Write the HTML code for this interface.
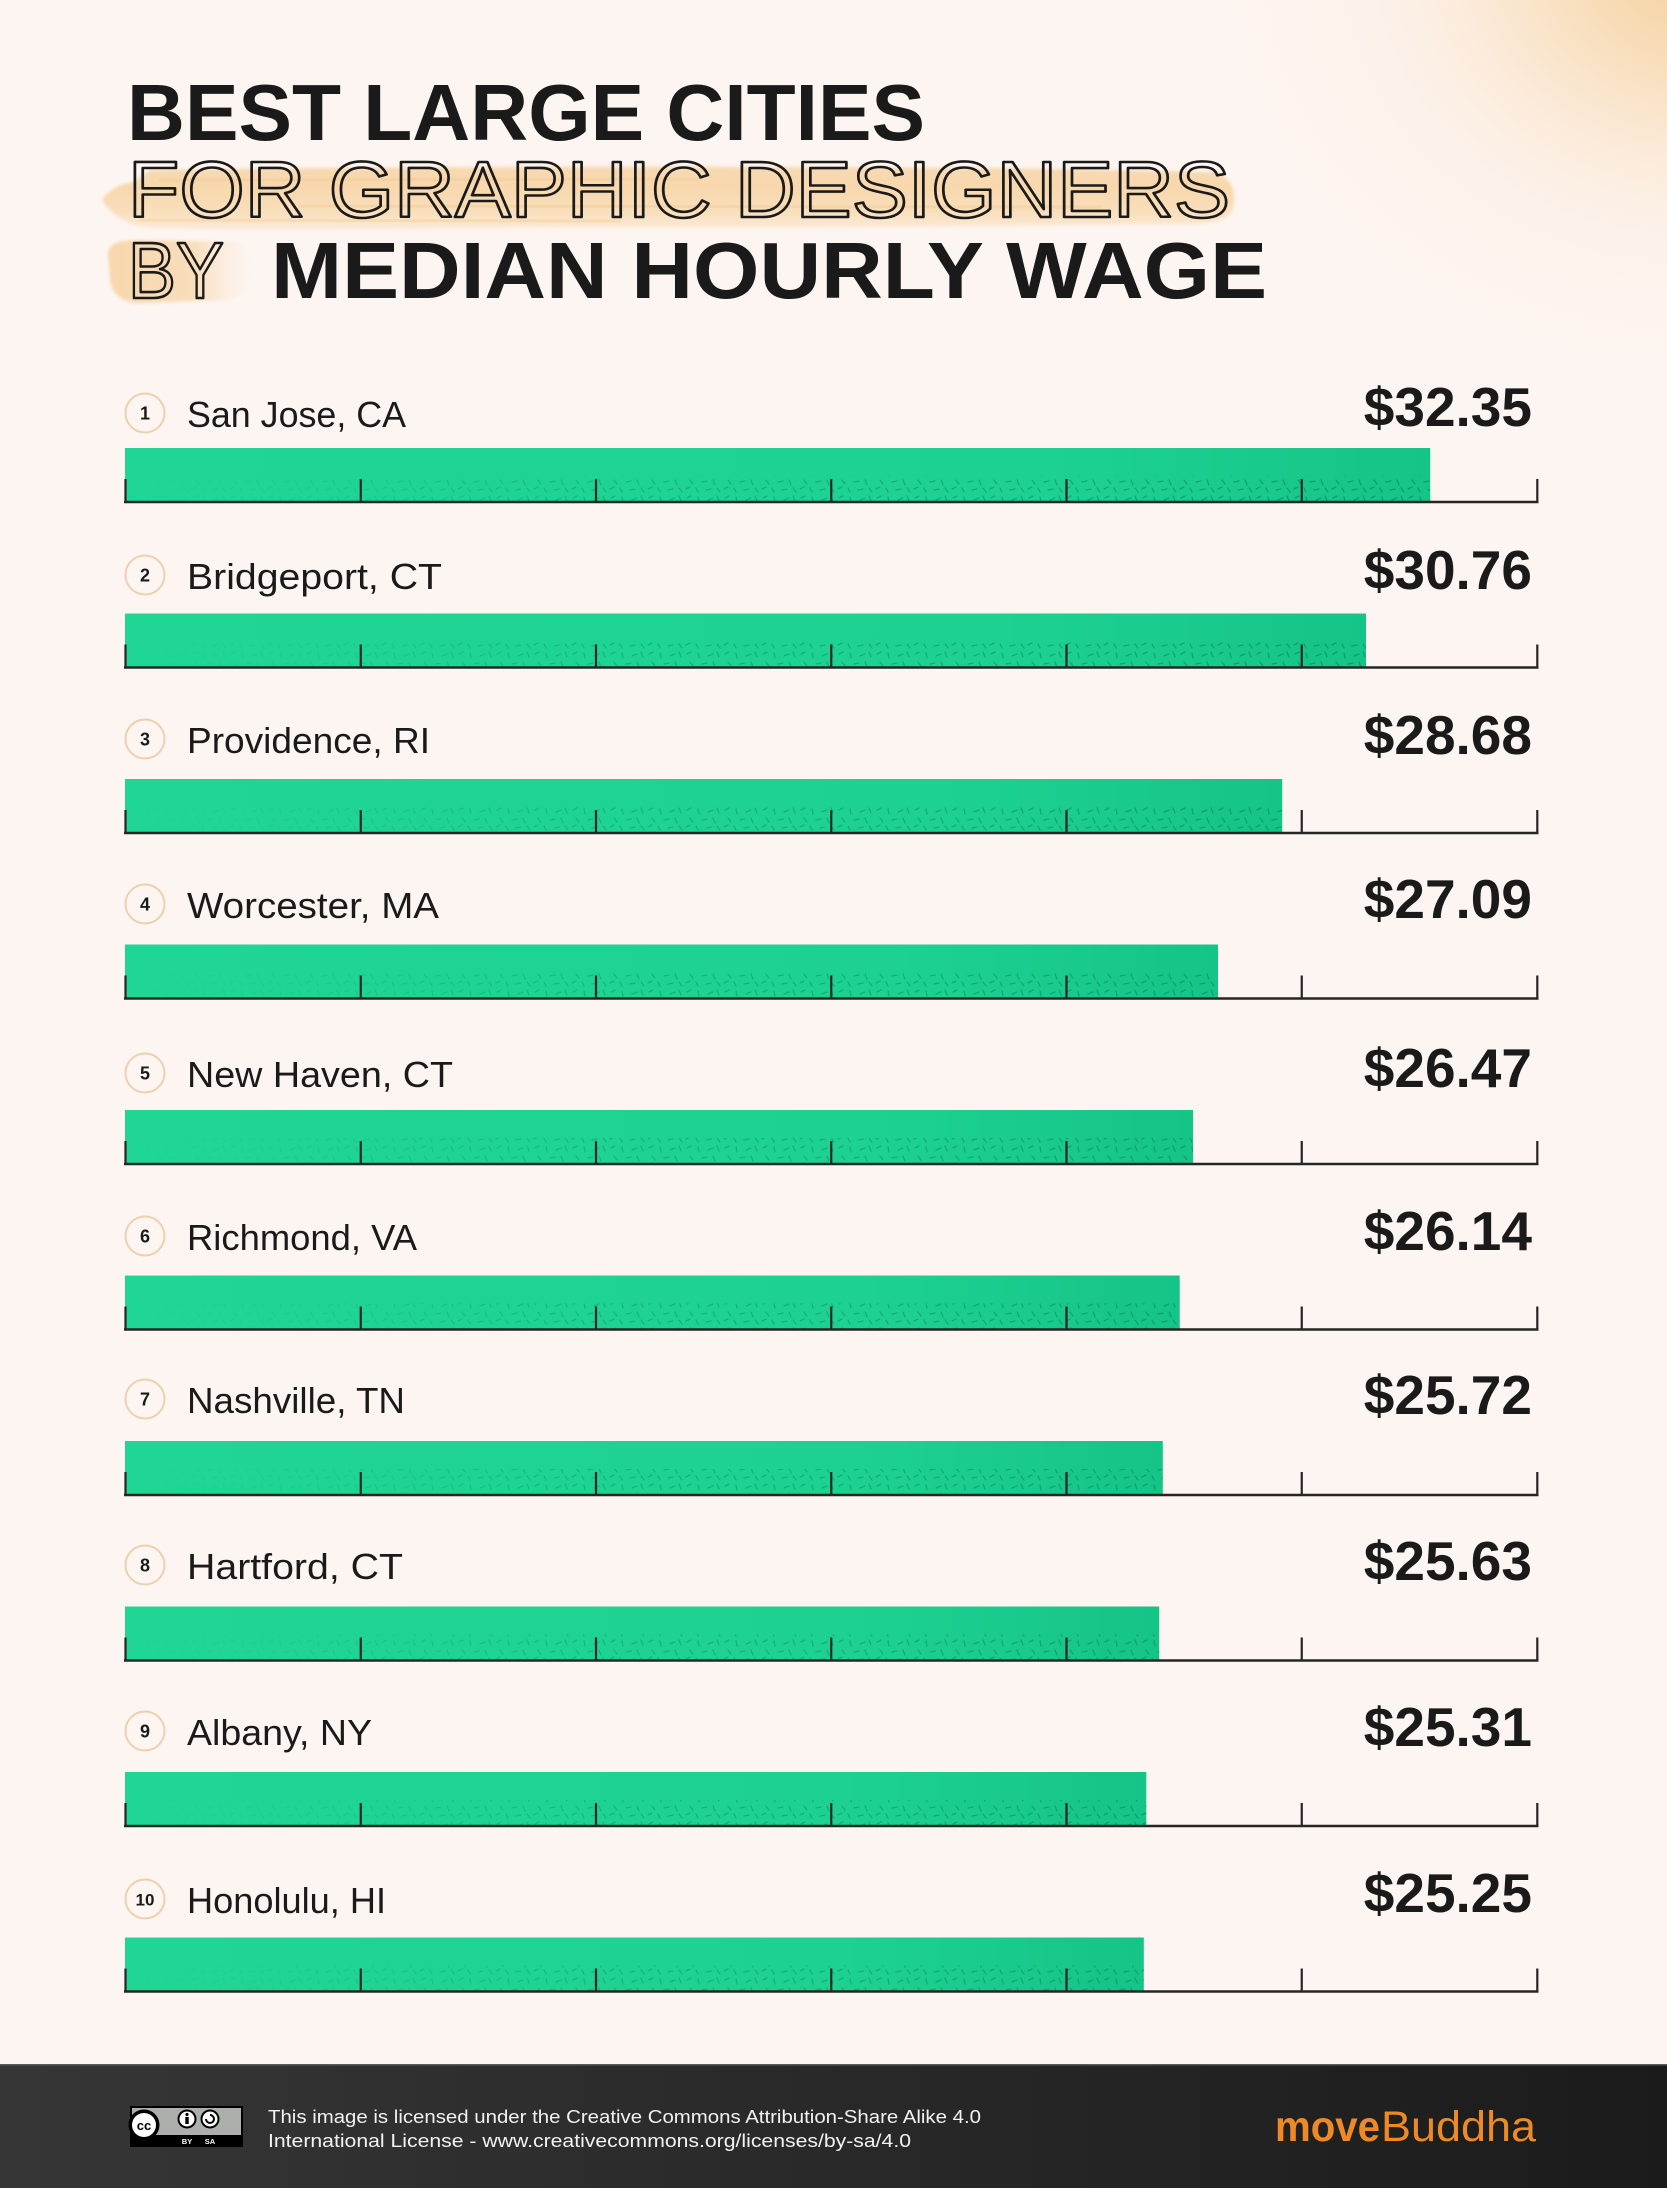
<!DOCTYPE html>
<html>
<head>
<meta charset="utf-8">
<style>
html,body{margin:0;padding:0;background:#fdf5f1;}
svg{display:block;}
</style>
</head>
<body>
<svg width="1667" height="2188" viewBox="0 0 1667 2188" xmlns="http://www.w3.org/2000/svg">
<defs>
  <radialGradient id="glow" cx="1700" cy="-40" r="500" gradientUnits="userSpaceOnUse" gradientTransform="translate(1700,-40) scale(1,0.85) translate(-1700,40)">
    <stop offset="0" stop-color="#f4cb90" stop-opacity="0.95"/>
    <stop offset="0.3" stop-color="#f7d8ae" stop-opacity="0.7"/>
    <stop offset="0.65" stop-color="#fbe9d6" stop-opacity="0.3"/>
    <stop offset="1" stop-color="#fdf5f1" stop-opacity="0"/>
  </radialGradient>
  <linearGradient id="barg" x1="0" y1="0" x2="1" y2="0">
    <stop offset="0" stop-color="#20d694"/>
    <stop offset="0.7" stop-color="#1dd291"/>
    <stop offset="1" stop-color="#15c487"/>
  </linearGradient>
  <linearGradient id="brush1" x1="0" y1="0" x2="0" y2="1">
    <stop offset="0" stop-color="#f6d19f" stop-opacity="0.75"/>
    <stop offset="0.3" stop-color="#f7d4a4" stop-opacity="0.9"/>
    <stop offset="0.75" stop-color="#f8dab0" stop-opacity="0.8"/>
    <stop offset="1" stop-color="#f9e2c4" stop-opacity="0.6"/>
  </linearGradient>
  <linearGradient id="brush2" x1="0" y1="0" x2="1" y2="0">
    <stop offset="0" stop-color="#f6d19f" stop-opacity="0.85"/>
    <stop offset="0.6" stop-color="#f7d6aa" stop-opacity="0.75"/>
    <stop offset="1" stop-color="#fbe6cf" stop-opacity="0"/>
  </linearGradient>
  <linearGradient id="footg" x1="0" y1="0" x2="1" y2="0">
    <stop offset="0" stop-color="#363636"/>
    <stop offset="0.6" stop-color="#262626"/>
    <stop offset="1" stop-color="#1b1b1b"/>
  </linearGradient>
  <filter id="soft" x="-5%" y="-30%" width="110%" height="160%">
    <feGaussianBlur stdDeviation="1.5"/>
  </filter>
  <pattern id="tex" width="38" height="26" patternUnits="userSpaceOnUse">
    <g stroke="#0b7d52" stroke-width="1.3" stroke-linecap="round" opacity="0.6">
      <line x1="3" y1="4" x2="7" y2="2"/>
      <line x1="14" y1="3" x2="15" y2="8"/>
      <line x1="24" y1="6" x2="29" y2="4"/>
      <line x1="33" y1="2" x2="35" y2="7"/>
      <line x1="6" y1="12" x2="9" y2="16"/>
      <line x1="18" y1="14" x2="23" y2="13"/>
      <line x1="29" y1="12" x2="31" y2="17"/>
      <line x1="2" y1="21" x2="6" y2="19"/>
      <line x1="12" y1="20" x2="14" y2="24"/>
      <line x1="22" y1="22" x2="27" y2="21"/>
      <line x1="33" y1="20" x2="36" y2="24"/>
    </g>
  </pattern>
  <linearGradient id="texfade" x1="125" y1="0" x2="1500" y2="0" gradientUnits="userSpaceOnUse">
    <stop offset="0" stop-color="#fff" stop-opacity="0"/>
    <stop offset="0.12" stop-color="#fff" stop-opacity="0.15"/>
    <stop offset="0.35" stop-color="#fff" stop-opacity="0.6"/>
    <stop offset="1" stop-color="#fff" stop-opacity="1"/>
  </linearGradient>
  <mask id="texmask" maskUnits="userSpaceOnUse" x="0" y="0" width="1667" height="2188">
    <rect x="0" y="0" width="1667" height="2188" fill="url(#texfade)"/>
  </mask>
</defs>

<!-- background -->
<rect x="0" y="0" width="1667" height="2188" fill="#fdf5f1"/>
<rect x="900" y="0" width="767" height="600" fill="url(#glow)"/>

<!-- brush strokes -->
<g filter="url(#soft)">
  <path d="M102,200 C108,190 120,184 134,182 L150,170 C420,166 700,166 1000,168 L1214,172 C1230,176 1236,190 1234,204 C1232,216 1224,222 1196,224 C1000,226 800,228 600,227 C400,229 250,230 150,228 C128,226 110,214 102,200 Z" fill="url(#brush1)"/>
  <path d="M108,252 C110,244 118,240 140,240 L232,242 C248,244 254,256 252,270 C250,286 244,298 226,300 L140,303 C122,303 112,294 110,280 Z" fill="url(#brush2)"/>
</g>
<g opacity="0.35" stroke="#f3c58a" stroke-width="3" stroke-linecap="round">
  <line x1="160" y1="180" x2="700" y2="179"/>
  <line x1="300" y1="206" x2="1100" y2="207"/>
  <line x1="140" y1="220" x2="620" y2="221"/>
</g>

<!-- Title -->
<text x="127" y="140" font-family="Liberation Sans, sans-serif" font-weight="700" font-size="80" fill="#1a1a1a" textLength="798" lengthAdjust="spacingAndGlyphs">BEST LARGE CITIES</text>
<text x="128" y="217" font-family="Liberation Sans, sans-serif" font-weight="400" font-size="80" fill="none" stroke="#1a1a1a" stroke-width="2.6" stroke-linejoin="round" textLength="1102" lengthAdjust="spacingAndGlyphs">FOR GRAPHIC DESIGNERS</text>
<text x="128" y="298" font-family="Liberation Sans, sans-serif" font-weight="400" font-size="80" fill="none" stroke="#1a1a1a" stroke-width="2.6" stroke-linejoin="round" textLength="96" lengthAdjust="spacingAndGlyphs">BY</text>
<text x="271" y="298" font-family="Liberation Sans, sans-serif" font-weight="700" font-size="80" fill="#1a1a1a" textLength="996" lengthAdjust="spacingAndGlyphs">MEDIAN HOURLY WAGE</text>

<!-- Rows -->
<g font-family="Liberation Sans, sans-serif">
<g>
  <rect x="125" y="448" width="1305.2" height="54" fill="url(#barg)"/>
  <rect x="125" y="476" width="1305.2" height="26" fill="url(#tex)" mask="url(#texmask)"/>
  <circle cx="145" cy="413" r="19.5" fill="none" stroke="#ecd1ac" stroke-width="2"/>
  <text x="145" y="419.5" text-anchor="middle" font-weight="700" font-size="18" fill="#1a1a1a">1</text>
  <text x="187" y="427" font-size="36" fill="#1a1a1a" textLength="219" lengthAdjust="spacingAndGlyphs">San Jose, CA</text>
  <text x="1532" y="426" text-anchor="end" font-weight="700" font-size="55" fill="#1a1a1a">$32.35</text>
</g>
<g>
  <rect x="125" y="613.5" width="1241" height="54" fill="url(#barg)"/>
  <rect x="125" y="641.5" width="1241" height="26" fill="url(#tex)" mask="url(#texmask)"/>
  <circle cx="145" cy="575" r="19.5" fill="none" stroke="#ecd1ac" stroke-width="2"/>
  <text x="145" y="581.5" text-anchor="middle" font-weight="700" font-size="18" fill="#1a1a1a">2</text>
  <text x="187" y="589" font-size="36" fill="#1a1a1a" textLength="255" lengthAdjust="spacingAndGlyphs">Bridgeport, CT</text>
  <text x="1532" y="589" text-anchor="end" font-weight="700" font-size="55" fill="#1a1a1a">$30.76</text>
</g>
<g>
  <rect x="125" y="779" width="1157.2" height="54" fill="url(#barg)"/>
  <rect x="125" y="807" width="1157.2" height="26" fill="url(#tex)" mask="url(#texmask)"/>
  <circle cx="145" cy="739" r="19.5" fill="none" stroke="#ecd1ac" stroke-width="2"/>
  <text x="145" y="745.5" text-anchor="middle" font-weight="700" font-size="18" fill="#1a1a1a">3</text>
  <text x="187" y="753" font-size="36" fill="#1a1a1a" textLength="243" lengthAdjust="spacingAndGlyphs">Providence, RI</text>
  <text x="1532" y="754" text-anchor="end" font-weight="700" font-size="55" fill="#1a1a1a">$28.68</text>
</g>
<g>
  <rect x="125" y="944.5" width="1093" height="54" fill="url(#barg)"/>
  <rect x="125" y="972.5" width="1093" height="26" fill="url(#tex)" mask="url(#texmask)"/>
  <circle cx="145" cy="904" r="19.5" fill="none" stroke="#ecd1ac" stroke-width="2"/>
  <text x="145" y="910.5" text-anchor="middle" font-weight="700" font-size="18" fill="#1a1a1a">4</text>
  <text x="187" y="918" font-size="36" fill="#1a1a1a" textLength="252" lengthAdjust="spacingAndGlyphs">Worcester, MA</text>
  <text x="1532" y="918" text-anchor="end" font-weight="700" font-size="55" fill="#1a1a1a">$27.09</text>
</g>
<g>
  <rect x="125" y="1110" width="1068" height="54" fill="url(#barg)"/>
  <rect x="125" y="1138" width="1068" height="26" fill="url(#tex)" mask="url(#texmask)"/>
  <circle cx="145" cy="1073" r="19.5" fill="none" stroke="#ecd1ac" stroke-width="2"/>
  <text x="145" y="1079.5" text-anchor="middle" font-weight="700" font-size="18" fill="#1a1a1a">5</text>
  <text x="187" y="1087" font-size="36" fill="#1a1a1a" textLength="266" lengthAdjust="spacingAndGlyphs">New Haven, CT</text>
  <text x="1532" y="1087" text-anchor="end" font-weight="700" font-size="55" fill="#1a1a1a">$26.47</text>
</g>
<g>
  <rect x="125" y="1275.5" width="1054.7" height="54" fill="url(#barg)"/>
  <rect x="125" y="1303.5" width="1054.7" height="26" fill="url(#tex)" mask="url(#texmask)"/>
  <circle cx="145" cy="1236" r="19.5" fill="none" stroke="#ecd1ac" stroke-width="2"/>
  <text x="145" y="1242.5" text-anchor="middle" font-weight="700" font-size="18" fill="#1a1a1a">6</text>
  <text x="187" y="1250" font-size="36" fill="#1a1a1a" textLength="230" lengthAdjust="spacingAndGlyphs">Richmond, VA</text>
  <text x="1532" y="1250" text-anchor="end" font-weight="700" font-size="55" fill="#1a1a1a">$26.14</text>
</g>
<g>
  <rect x="125" y="1441" width="1037.8" height="54" fill="url(#barg)"/>
  <rect x="125" y="1469" width="1037.8" height="26" fill="url(#tex)" mask="url(#texmask)"/>
  <circle cx="145" cy="1399" r="19.5" fill="none" stroke="#ecd1ac" stroke-width="2"/>
  <text x="145" y="1405.5" text-anchor="middle" font-weight="700" font-size="18" fill="#1a1a1a">7</text>
  <text x="187" y="1413" font-size="36" fill="#1a1a1a" textLength="218" lengthAdjust="spacingAndGlyphs">Nashville, TN</text>
  <text x="1532" y="1414" text-anchor="end" font-weight="700" font-size="55" fill="#1a1a1a">$25.72</text>
</g>
<g>
  <rect x="125" y="1606.5" width="1034.2" height="54" fill="url(#barg)"/>
  <rect x="125" y="1634.5" width="1034.2" height="26" fill="url(#tex)" mask="url(#texmask)"/>
  <circle cx="145" cy="1565" r="19.5" fill="none" stroke="#ecd1ac" stroke-width="2"/>
  <text x="145" y="1571.5" text-anchor="middle" font-weight="700" font-size="18" fill="#1a1a1a">8</text>
  <text x="187" y="1579" font-size="36" fill="#1a1a1a" textLength="216" lengthAdjust="spacingAndGlyphs">Hartford, CT</text>
  <text x="1532" y="1580" text-anchor="end" font-weight="700" font-size="55" fill="#1a1a1a">$25.63</text>
</g>
<g>
  <rect x="125" y="1772" width="1021.3" height="54" fill="url(#barg)"/>
  <rect x="125" y="1800" width="1021.3" height="26" fill="url(#tex)" mask="url(#texmask)"/>
  <circle cx="145" cy="1731" r="19.5" fill="none" stroke="#ecd1ac" stroke-width="2"/>
  <text x="145" y="1737.5" text-anchor="middle" font-weight="700" font-size="18" fill="#1a1a1a">9</text>
  <text x="187" y="1745" font-size="36" fill="#1a1a1a" textLength="185" lengthAdjust="spacingAndGlyphs">Albany, NY</text>
  <text x="1532" y="1746" text-anchor="end" font-weight="700" font-size="55" fill="#1a1a1a">$25.31</text>
</g>
<g>
  <rect x="125" y="1937.5" width="1018.8" height="54" fill="url(#barg)"/>
  <rect x="125" y="1965.5" width="1018.8" height="26" fill="url(#tex)" mask="url(#texmask)"/>
  <circle cx="145" cy="1899" r="19.5" fill="none" stroke="#ecd1ac" stroke-width="2"/>
  <text x="145" y="1905.5" text-anchor="middle" font-weight="700" font-size="17" fill="#1a1a1a">10</text>
  <text x="187" y="1913" font-size="36" fill="#1a1a1a" textLength="199" lengthAdjust="spacingAndGlyphs">Honolulu, HI</text>
  <text x="1532" y="1912" text-anchor="end" font-weight="700" font-size="55" fill="#1a1a1a">$25.25</text>
</g>
</g>

<!-- Axes and ticks -->
<g stroke="#262626" fill="none">
  <g stroke-width="2.5">
    <line x1="124" y1="502" x2="1538.5" y2="502"/>
    <line x1="124" y1="667.5" x2="1538.5" y2="667.5"/>
    <line x1="124" y1="833" x2="1538.5" y2="833"/>
    <line x1="124" y1="998.5" x2="1538.5" y2="998.5"/>
    <line x1="124" y1="1164" x2="1538.5" y2="1164"/>
    <line x1="124" y1="1329.5" x2="1538.5" y2="1329.5"/>
    <line x1="124" y1="1495" x2="1538.5" y2="1495"/>
    <line x1="124" y1="1660.5" x2="1538.5" y2="1660.5"/>
    <line x1="124" y1="1826" x2="1538.5" y2="1826"/>
    <line x1="124" y1="1991.5" x2="1538.5" y2="1991.5"/>
  </g>
  <path stroke-width="2.2" d="
M125.5,479V502 M360.75,479V502 M596,479V502 M831.25,479V502 M1066.5,479V502 M1301.75,479V502 M1537.3,479V502
M125.5,644.5V667.5 M360.75,644.5V667.5 M596,644.5V667.5 M831.25,644.5V667.5 M1066.5,644.5V667.5 M1301.75,644.5V667.5 M1537.3,644.5V667.5
M125.5,810V833 M360.75,810V833 M596,810V833 M831.25,810V833 M1066.5,810V833 M1301.75,810V833 M1537.3,810V833
M125.5,975.5V998.5 M360.75,975.5V998.5 M596,975.5V998.5 M831.25,975.5V998.5 M1066.5,975.5V998.5 M1301.75,975.5V998.5 M1537.3,975.5V998.5
M125.5,1141V1164 M360.75,1141V1164 M596,1141V1164 M831.25,1141V1164 M1066.5,1141V1164 M1301.75,1141V1164 M1537.3,1141V1164
M125.5,1306.5V1329.5 M360.75,1306.5V1329.5 M596,1306.5V1329.5 M831.25,1306.5V1329.5 M1066.5,1306.5V1329.5 M1301.75,1306.5V1329.5 M1537.3,1306.5V1329.5
M125.5,1472V1495 M360.75,1472V1495 M596,1472V1495 M831.25,1472V1495 M1066.5,1472V1495 M1301.75,1472V1495 M1537.3,1472V1495
M125.5,1637.5V1660.5 M360.75,1637.5V1660.5 M596,1637.5V1660.5 M831.25,1637.5V1660.5 M1066.5,1637.5V1660.5 M1301.75,1637.5V1660.5 M1537.3,1637.5V1660.5
M125.5,1803V1826 M360.75,1803V1826 M596,1803V1826 M831.25,1803V1826 M1066.5,1803V1826 M1301.75,1803V1826 M1537.3,1803V1826
M125.5,1968.5V1991.5 M360.75,1968.5V1991.5 M596,1968.5V1991.5 M831.25,1968.5V1991.5 M1066.5,1968.5V1991.5 M1301.75,1968.5V1991.5 M1537.3,1968.5V1991.5"/>
</g>

<!-- Footer -->
<rect x="0" y="2064" width="1667" height="124" fill="url(#footg)"/>
<rect x="0" y="2064" width="1667" height="1.5" fill="#5a5a5a"/>

<!-- CC badge -->
<g>
  <rect x="130" y="2106" width="113" height="41" fill="#000"/>
  <rect x="132" y="2108" width="109" height="27" fill="#abb1aa"/>
  <circle cx="144" cy="2125" r="15.5" fill="#000"/>
  <circle cx="144" cy="2125" r="12" fill="#fff"/>
  <text x="144" y="2130" text-anchor="middle" font-family="Liberation Sans, sans-serif" font-weight="700" font-size="13" fill="#000">cc</text>
  <circle cx="187" cy="2119" r="9.5" fill="#000"/>
  <circle cx="187" cy="2119" r="7.5" fill="#fff"/>
  <circle cx="187" cy="2114.5" r="1.6" fill="#000"/>
  <rect x="185.3" y="2117" width="3.4" height="7" fill="#000"/>
  <circle cx="210" cy="2119" r="9.5" fill="#000"/>
  <circle cx="210" cy="2119" r="7.5" fill="#fff"/>
  <path d="M206,2119 a4,4 0 1 0 4,-4" fill="none" stroke="#000" stroke-width="2"/>
  <text x="187" y="2144" text-anchor="middle" font-family="Liberation Sans, sans-serif" font-weight="700" font-size="7.5" fill="#fff">BY</text>
  <text x="210" y="2144" text-anchor="middle" font-family="Liberation Sans, sans-serif" font-weight="700" font-size="7.5" fill="#fff">SA</text>
</g>
<text x="268" y="2123" font-family="Liberation Sans, sans-serif" font-size="18.5" fill="#f2f2f2" textLength="713" lengthAdjust="spacingAndGlyphs">This image is licensed under the Creative Commons Attribution-Share Alike 4.0</text>
<text x="268" y="2147" font-family="Liberation Sans, sans-serif" font-size="18.5" fill="#f2f2f2" textLength="643" lengthAdjust="spacingAndGlyphs">International License - www.creativecommons.org/licenses/by-sa/4.0</text>

<text x="1275" y="2141" font-family="Liberation Sans, sans-serif" font-weight="700" font-size="43" fill="#ee8a26" textLength="105" lengthAdjust="spacingAndGlyphs">move</text>
<text x="1381" y="2141" font-family="Liberation Sans, sans-serif" font-weight="400" font-size="43" fill="#ee8a26" textLength="155" lengthAdjust="spacingAndGlyphs">Buddha</text>
</svg>
</body>
</html>
